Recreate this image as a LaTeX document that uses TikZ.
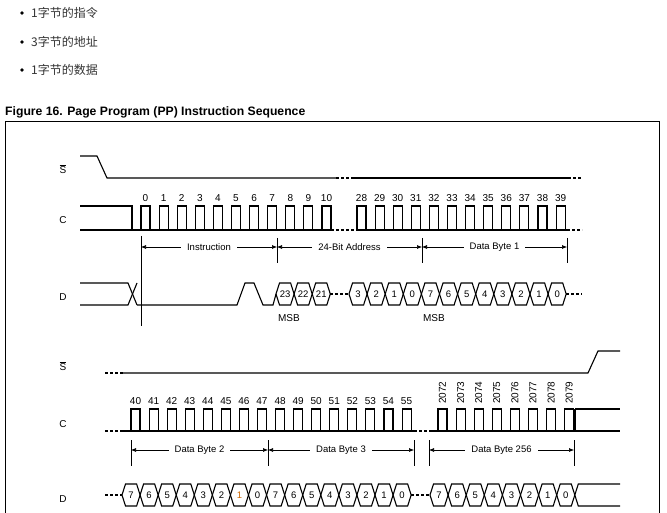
\documentclass[tikz,border=0pt]{standalone}
\usepackage{fontspec}
\setmainfont{Liberation Sans}
\newfontfamily\cjk{Noto Sans CJK SC}
\usetikzlibrary{arrows.meta}
\tikzset{
  sig/.style={line width=1.1pt},
  gap/.style={line width=1.1pt, dash pattern=on 3pt off 2pt},
  lbl/.style={font=\fontsize{10}{12}\selectfont, inner sep=0pt},
  cell/.style={font=\fontsize{9.5}{11}\selectfont, inner sep=0pt},
  meas/.style={line width=0.6pt, {Latex[length=5pt,width=4pt]}-{Latex[length=5pt,width=4pt]}},
  mtxt/.style={font=\fontsize{9.5}{11}\selectfont, fill=white, inner xsep=6pt, inner ysep=1pt},
  tick/.style={line width=0.7pt}
}
\newcommand{\hexcell}[4]{% start x, center y, text, color
  \draw[sig] (#1,#2) -- ++(3.5,-11) -- ++(11.1,0) -- ++(3.5,11) -- ++(-3.5,11) -- ++(-11.1,0) -- cycle;
  \node[cell,text=#4] at (#1+9.05,#2) {#3};}
\begin{document}
\begin{tikzpicture}[x=1pt,y=-1pt]
\useasboundingbox (0,0) rectangle (667,513);
% bullets
\foreach \t/\y in {1字节的指令/13, 3字节的地址/42, 1字节的数据/70}{
  \fill (22,\y) circle (1.8);
  \node[anchor=west, font=\cjk\fontsize{12}{14}\selectfont, inner sep=0pt, text=black!80] at (31,\y) {\t};
}
\node[anchor=west, font=\bfseries\fontsize{12.2}{14}\selectfont, inner sep=0pt] at (5,112) {Figure 16. Page Program (PP) Instruction Sequence};
\draw[line width=1pt] (5,513) -- (5,122) -- (659,122) -- (659,513);

% ---------- Row 1 ----------
\node[lbl] at (63,169) {$\overline{\mbox{S}}$};
\node[lbl] at (63,220) {C};
\node[lbl] at (63,297) {D};
% S
\draw[sig] (80,156) -- (97,156) -- (107,178) -- (336,178);
\draw[gap] (336,178) -- (352,178);
\draw[sig] (352,178) -- (568,178);
\draw[gap] (568,178) -- (582,178);
% C
\draw[sig] (80,206) -- (132,206) -- (132,230) -- (80,230);
\draw[sig] (132,230) -- (331,230);
\foreach \k in {0,...,10}{
  \draw[sig] (141+18.1*\k,230) -- ++(0,-24) -- ++(9,0) -- ++(0,24);
  \node[lbl] at (145.5+18.1*\k,198) {\k};
}
\draw[gap] (331,230) -- (357,230);
\draw[sig] (357,230) -- (567,230);
\foreach \k in {28,...,39}{
  \draw[sig] (357+18.1*\k-506.8,230) -- ++(0,-24) -- ++(9,0) -- ++(0,24);
  \node[lbl] at (361.5+18.1*\k-506.8,198) {\k};
}
\draw[gap] (567,230) -- (582,230);
% measures
\draw[tick] (141,236) -- (141,326);
\draw[tick] (277,238) -- (277,263);
\draw[tick] (422,238) -- (422,263);
\draw[tick] (567,238) -- (567,263);
\draw[meas] (141,247) -- node[mtxt]{Instruction} (277,247);
\draw[meas] (277,247) -- node[mtxt]{24-Bit Address} (422,247);
\draw[meas] (422,247) -- node[mtxt]{Data Byte 1} (567,247);
% D
\draw[sig] (80,283) -- (128,283) -- (137,305);
\draw[sig] (80,305) -- (128,305) -- (137,283);
\draw[sig] (137,305) -- (237,305) -- (245,283) -- (254,283) -- (263,305) -- (273,305) -- (276,294);
\foreach \t [count=\i from 0] in {23,22,21}{\hexcell{276+18.1*\i}{294}{\t}{black}}
\draw[gap] (330.3,294) -- (349,294);
\foreach \t [count=\i from 0] in {3,2,1,0,7,6,5,4,3,2,1,0}{\hexcell{349+18.1*\i}{294}{\t}{black}}
\draw[gap] (566.2,294) -- (582,294);
\node[lbl] at (289,318) {MSB};
\node[lbl] at (434,318) {MSB};

% ---------- Row 2 ----------
\node[lbl] at (63,366) {$\overline{\mbox{S}}$};
\node[lbl] at (63,424) {C};
\node[lbl] at (63,499) {D};
% S
\draw[gap] (105,373) -- (123,373);
\draw[sig] (123,373) -- (588,373) -- (598,351) -- (620,351);
% C
\draw[gap] (105,431) -- (123,431);
\draw[sig] (123,431) -- (414,431);
\foreach \k in {40,...,55}{
  \draw[sig] (131+18.07*\k-722.8,431) -- ++(0,-22) -- ++(9,0) -- ++(0,22);
  \node[lbl] at (135.5+18.07*\k-722.8,401) {\k};
}
\draw[gap] (414,431) -- (430,431);
\draw[sig] (430,431) -- (575,431);
\foreach \k [count=\i from 0] in {2072,...,2079}{
  \draw[sig] (438+18.1*\i,431) -- ++(0,-22) -- ++(9,0) -- ++(0,22);
  \node[lbl, rotate=90, anchor=west] at (442.5+18.1*\i,404) {\k};
}
\draw[sig] (575,409) -- (575,431);
\draw[sig] (575,409) -- (620,409);
\draw[sig] (575,431) -- (620,431);
% measures
\draw[tick] (131,440) -- (131,466);
\draw[tick] (268,440) -- (268,466);
\draw[tick] (414,440) -- (414,466);
\draw[tick] (429,440) -- (429,466);
\draw[tick] (574,440) -- (574,466);
\draw[meas] (131,450) -- node[mtxt]{Data Byte 2} (268,450);
\draw[meas] (268,450) -- node[mtxt]{Data Byte 3} (414,450);
\draw[meas] (429,450) -- node[mtxt]{Data Byte 256} (574,450);
% D
\draw[gap] (105,495) -- (122,495);
\foreach \t [count=\i from 0] in {7,6,5,4,3,2}{\hexcell{122+18.07*\i}{495}{\t}{black}}
\hexcell{122+18.07*6}{495}{1}{orange!80!black}
\foreach \t [count=\i from 7] in {0,7,6,5,4,3,2,1,0}{\hexcell{122+18.07*\i}{495}{\t}{black}}
\draw[gap] (411.3,495) -- (430,495);
\foreach \t [count=\i from 0] in {7,6,5,4,3,2,1,0}{\hexcell{430+18.1*\i}{495}{\t}{black}}
\draw[sig] (574.8,495) -- (578.3,484) -- (620,484);
\draw[sig] (574.8,495) -- (578.3,506) -- (620,506);
\end{tikzpicture}
\end{document}
